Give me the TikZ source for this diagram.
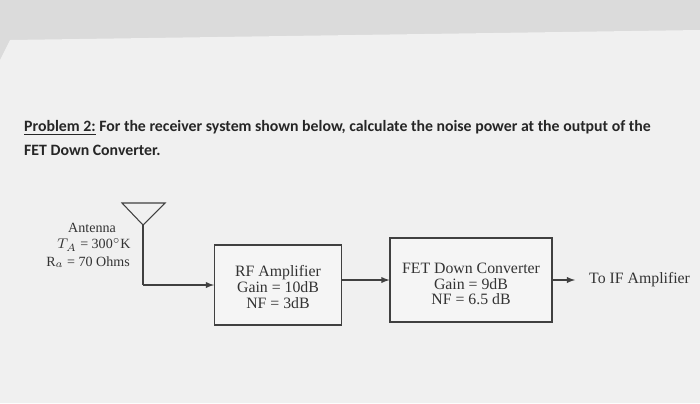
\documentclass[tikz,border=0pt]{standalone}
\usepackage{fontspec}
\setmainfont{Liberation Serif}
\newfontfamily\calib{Carlito}
\begin{document}
\begin{tikzpicture}[x=0.02cm,y=-0.02cm,
  blk/.style={draw=black!75,line width=0.6pt,fill=white!92!gray,minimum width=#1,inner sep=0pt},
  lbl/.style={font=\small,text=black!80,align=center},
  wire/.style={draw=black!75,line width=0.6pt},
  arr/.style={wire,-latex}]
\fill[black!14] (0,0) rectangle (700,403);
\fill[black!6] (10,40) -- (700,30) -- (700,403) -- (0,403) -- (0,60) -- cycle;
\useasboundingbox (0,0) rectangle (700,403);
% problem text
\node[anchor=west,font=\calib\bfseries\fontsize{9}{11}\selectfont,text=black!85] (p1) at (18,128)
  {\underline{Problem 2:} For the receiver system shown below, calculate the noise power at the output of the};
\node[anchor=west,font=\calib\bfseries\fontsize{9}{11}\selectfont,text=black!85] (p2) at (18,150) {FET Down Converter.};
% antenna
\draw[wire] (122,203) -- (165,203) -- (143,225) -- cycle;
\coordinate (ant) at (143,225);
\coordinate (bend) at (143,285);
\node[lbl,font=\footnotesize] (t1) at (92,228) {Antenna};
\node[lbl,font=\footnotesize] (t2) at (94,245) {$T_A$ = 300$^\circ$K};
\node[lbl,font=\footnotesize] (t3) at (88,262) {R$_a$ = 70 Ohms};
% blocks
\node[blk=127*0.02cm,minimum height=80*0.02cm] (rf) at (278,285) {};
\node[lbl] at (278,287) {RF Amplifier\\[-2pt]Gain = 10dB\\[-2pt]NF = 3dB};
\node[blk=162*0.02cm,minimum height=84*0.02cm] (fet) at (471,280) {};
\node[lbl] at (471,284) {FET Down Converter\\[-2pt]Gain = 9dB\\[-2pt]NF = 6.5 dB};
\coordinate (out) at (575,280);
\node[lbl,anchor=west] (ifa) at (583,280) {To IF Amplifier};
\draw[wire] (ant) -- (bend);
\draw[arr] (bend) -- (rf.west |- bend);
\draw[arr] (rf.east |- fet) -- (fet.west);
\draw[arr] (fet.east) -- (out);
\end{tikzpicture}
\end{document}
